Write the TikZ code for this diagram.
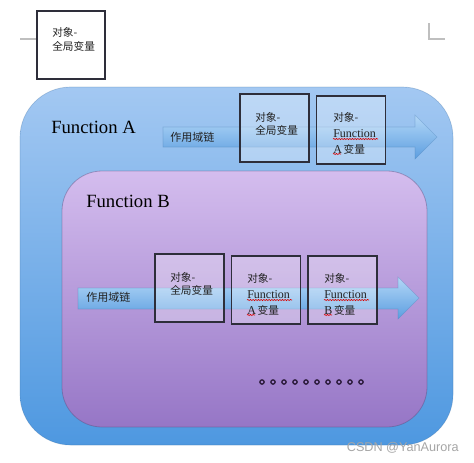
\documentclass[tikz,border=0pt]{standalone}
\usepackage{fontspec}
\setmainfont{Liberation Serif}
\newfontfamily\cjk{Noto Sans CJK SC}
\newfontfamily\wmfont{Liberation Sans}
\usetikzlibrary{decorations.pathmorphing}
\definecolor{blueTop}{HTML}{A3C8F2}
\definecolor{blueBot}{HTML}{4E98E0}
\definecolor{purpTop}{HTML}{D4BDEE}
\definecolor{purpBot}{HTML}{9676C6}
\definecolor{arrTop}{HTML}{B3D7F7}
\definecolor{arrBot}{HTML}{5C9EE0}
\definecolor{boxline}{HTML}{2E2E3A}
\definecolor{textcol}{HTML}{222222}
\definecolor{dotcol}{HTML}{2B1B3B}
\tikzset{
  varbox/.style={draw=boxline, line width=0.9pt, fill=white, fill opacity=0.3, text opacity=1, minimum width=69*0.75pt, minimum height=68*0.75pt, inner sep=0pt},
  boxtext/.style={anchor=north west, align=left, inner sep=0pt, font=\cjk\fontsize{8}{10}\selectfont, text=textcol},
  boxtextiii/.style={boxtext, font=\cjk\fontsize{8}{12}\selectfont},
  chainlbl/.style={anchor=west, inner sep=0pt, font=\cjk\fontsize{8.3}{10}\selectfont, text=textcol},
  funclbl/.style={anchor=west, inner sep=0pt, font=\fontsize{14}{16}\selectfont, text=black},
  scopearrow/.style={top color=arrTop, bottom color=arrBot, draw=arrBot!80!black, draw opacity=0.35, line width=0.4pt},
  wavy/.style={draw=red!85!black, line width=0.45pt, decorate, decoration={snake, amplitude=0.45pt, segment length=2pt}},
  cropmark/.style={draw=black!25, line width=0.8pt},
  dotmark/.style={draw=dotcol, line width=1pt},
}
\newcommand{\fn}{{\rmfamily\fontsize{9}{12}\selectfont Function}}
\newcommand{\lt}[1]{{\rmfamily\fontsize{9}{12}\selectfont #1}}
\begin{document}
\begin{tikzpicture}[x=0.75pt, y=-0.75pt]
\useasboundingbox (0,0) rectangle (474,462);
\fill[white] (0,0) rectangle (474,462);

% crop marks
\coordinate (cmL1) at (20,39);
\coordinate (cmL2) at (37,39);
\draw[cropmark] (cmL1) -- (cmL2);
\coordinate (cmR1) at (429,23);
\coordinate (cmR2) at (429,39);
\coordinate (cmR3) at (445,39);
\draw[cropmark] (cmR1) -- (cmR2) -- (cmR3);

% global object box
\node[draw=boxline, line width=0.9pt, minimum width=68*0.75pt, minimum height=68*0.75pt, inner sep=0pt] (gbox) at (71,45) {};
\node[boxtext, font=\cjk\fontsize{8}{11}\selectfont] (gtext) at (52,27) {对象-\\全局变量};

% outer Function A region
\path[top color=blueTop, bottom color=blueBot, draw=blueBot!70!black, draw opacity=0.3, line width=0.5pt, rounded corners=38pt]
  (20,87) rectangle (453,445);
\node[funclbl] (fA) at (51,127) {Function A};

% scope chain arrow A
\path[scopearrow] (163,127) -- (415,127) -- (415,115) -- (437,137) -- (415,159) -- (415,147) -- (163,147) -- cycle;
\node[chainlbl] (chainA) at (170,137) {作用域链};

\node[varbox] (a1) at (274.5,128) {};
\node[boxtext] (a1t) at (255,112) {对象-\\全局变量};
\node[varbox] (a2) at (351,130) {};
\node[boxtextiii] (a2t) at (333,112) {对象-\\\fn\\\lt{A}\,变量};
\draw[wavy] (333,139) -- (378,139);
\draw[wavy] (333,154) -- (341,154);

% inner Function B region
\path[top color=purpTop, bottom color=purpBot, draw=purpBot!60!black, draw opacity=0.4, line width=0.6pt, rounded corners=30pt]
  (62,171) rectangle (427,427);
\node[funclbl] (fB) at (86,201) {Function B};

% scope chain arrow B
\path[scopearrow] (78,288) -- (398,288) -- (398,277) -- (419,298) -- (398,319) -- (398,309) -- (78,309) -- cycle;
\node[chainlbl] (chainB) at (86,297.5) {作用域链};

\node[varbox] (b1) at (189.5,288) {};
\node[boxtext] (b1t) at (170,272) {对象-\\全局变量};
\node[varbox] (b2) at (266,290) {};
\node[boxtextiii] (b2t) at (247,273) {对象-\\\fn\\\lt{A}\,变量};
\draw[wavy] (247,300) -- (292,300);
\draw[wavy] (247,315) -- (255,315);
\node[varbox] (b3) at (342.5,290) {};
\node[boxtextiii] (b3t) at (324,273) {对象-\\\fn\\\lt{B}\,变量};
\draw[wavy] (324,300) -- (369,300);
\draw[wavy] (324,315) -- (332,315);

% dots
\foreach \i in {0,...,9} {
  \draw[dotmark] (262+11*\i,382) circle (1.6pt);
}

% watermark
\node[anchor=east, inner sep=0pt, font=\wmfont\fontsize{9.5}{11}\selectfont, text=black!35] (wm) at (459,448) {CSDN @YanAurora};
\end{tikzpicture}
\end{document}
